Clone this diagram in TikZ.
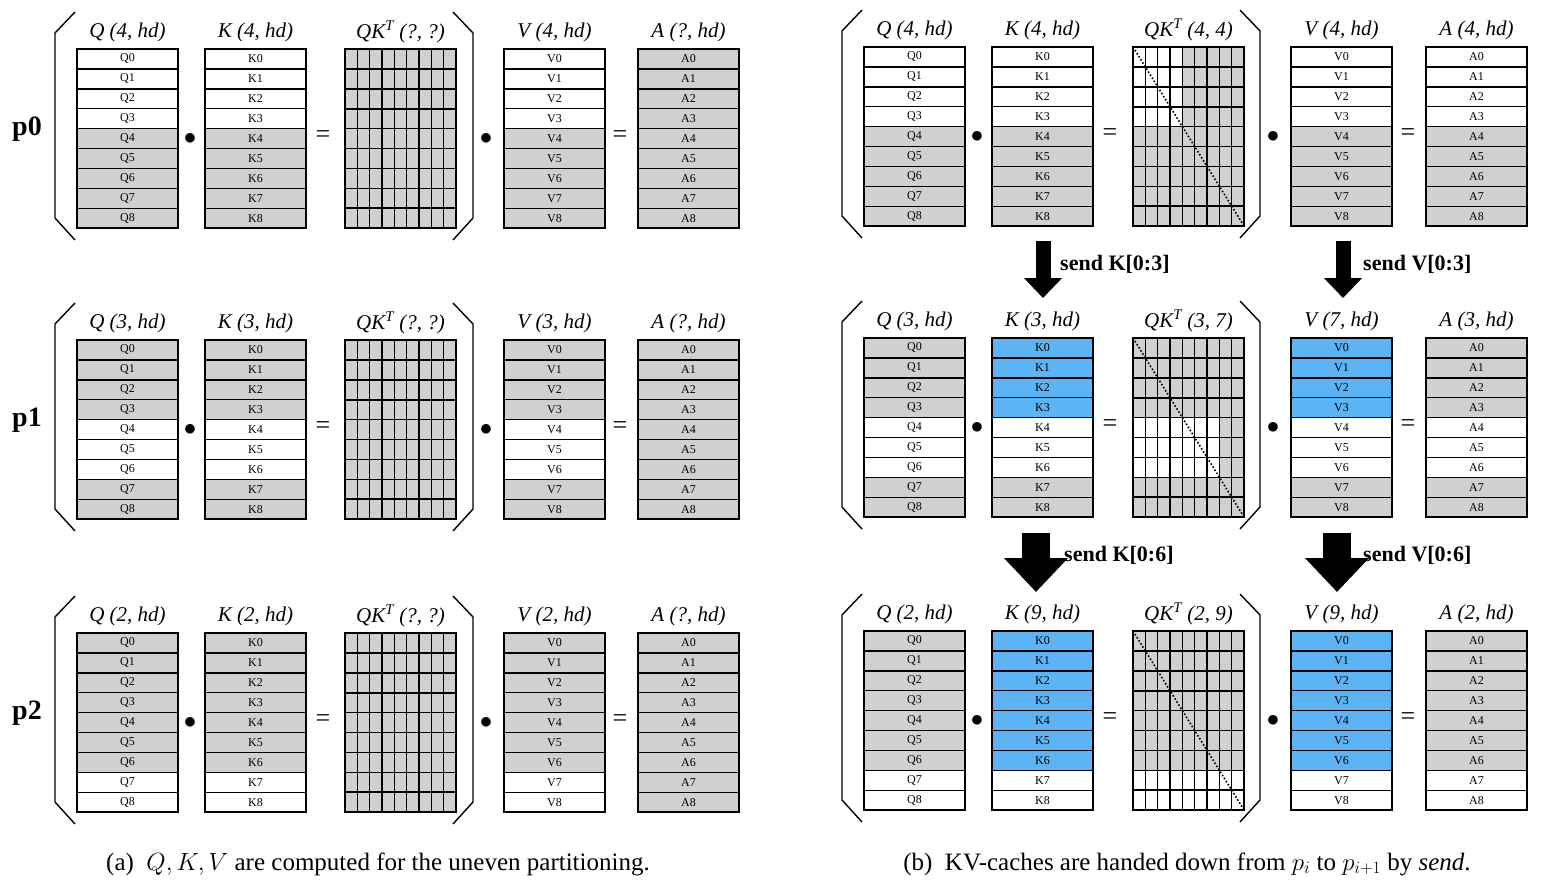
\documentclass[tikz,border=0pt]{standalone}
\usepackage{fontspec}
\setmainfont{Liberation Serif}
\usetikzlibrary{arrows.meta}
\definecolor{cg}{HTML}{D0D0D0}
\definecolor{cb}{HTML}{5CB4F5}
\colorlet{cw}{white}
\tikzset{
 cell/.style={draw,line width=1.4pt,minimum width=101pt,minimum height=19.9pt,inner sep=0pt,font=\fontsize{12}{12}\selectfont},
 hdr/.style={font=\fontsize{21}{21}\selectfont\itshape,inner sep=0pt},
 brk/.style={line width=1.4pt},
 sym/.style={font=\fontsize{26}{26}\selectfont,inner sep=0pt},
 plab/.style={font=\fontsize{28}{28}\selectfont\bfseries,inner sep=0pt},
 slab/.style={font=\fontsize{22}{22}\selectfont\bfseries,inner sep=0pt,anchor=west},
 captext/.style={font=\fontsize{25}{25}\selectfont,inner sep=0pt},
 arrA/.style={line width=15pt,-{Triangle[width=37pt,length=20pt]}},
 arrB/.style={line width=28pt,-{Triangle[width=62pt,length=34pt]}}
}
% column: name, x, ytop, letter, header, fills
\newcommand\mcol[6]{%
 \node[hdr] (#1h) at (#2+50.5,#3-17) {#5};
 \foreach \c [count=\i from 0] in {#6} {\node[cell,fill=\c] (#1\i) at (#2+50.5,#3+9.95+19.9*\i) {#4\i};}
}
% grid: name, x, ytop, header, row1, row2, ncol white, diagonal(1/0)
\newcommand\qkgrid[8]{%
 \node[hdr] (#1h) at (#2+55.5,#3-17) {#4};
 \foreach \r in {0,...,8}{\foreach \c in {0,...,8}{%
   \pgfmathparse{and(and(\r>=#5,\r<=#6),\c<#7)}%
   \ifdim\pgfmathresult pt>0.5pt \def\cc{cw}\else\def\cc{cg}\fi
   \draw[line width=1.6pt,fill=\cc] (#2+\c*12.33,#3+\r*19.9) rectangle ++(12.33,19.9);}}
 \coordinate (#1tl) at (#2,#3);
 \coordinate (#1br) at (#2+111,#3+179);
 \ifnum#8=1 \draw[dotted,line width=1.6pt] (#1tl) -- (#1br);\fi
}
\newcommand\brackets[3]{% left x, right x, ytop
 \draw[brk] (#1+20,#3-37) -- (#1,#3-16) -- (#1,#3+169) -- (#1+20,#3+191);
 \draw[brk] (#2-20,#3-37) -- (#2,#3-16) -- (#2,#3+169) -- (#2-20,#3+191);
}
\newcommand\syms[5]{% prefix, x1..x4 ; uses \yy
 \node[sym] (#1d1) at (#2,\yy+90) {$\bullet$};
 \node[sym] (#1e1) at (#3,\yy+88) {=};
 \node[sym] (#1d2) at (#4,\yy+90) {$\bullet$};
 \node[sym] (#1e2) at (#5,\yy+88) {=};
}
\begin{document}
\begin{tikzpicture}[x=1pt,y=-1pt]
\useasboundingbox (0,0) rectangle (1548,881);
% ---------- panel (a)
% p0
\def\yy{49}
\node[plab] (ap0) at (27,\yy+80) {p0};
\brackets{55}{473}{\yy}
\mcol{aaQ}{77}{\yy}{Q}{Q (4, hd)}{cw,cw,cw,cw,cg,cg,cg,cg,cg}
\mcol{aaK}{205}{\yy}{K}{K (4, hd)}{cw,cw,cw,cw,cg,cg,cg,cg,cg}
\qkgrid{aaG}{345}{\yy}{QK\textsuperscript{T} (?, ?)}{9}{9}{0}{0}
\mcol{aaV}{504}{\yy}{V}{V (4, hd)}{cw,cw,cw,cw,cg,cg,cg,cg,cg}
\mcol{aaA}{638}{\yy}{A}{A (?, hd)}{cg,cg,cg,cg,cg,cg,cg,cg,cg}
\syms{aa}{190}{323}{486}{620}
% p1
\def\yy{340}
\node[plab] (ap1) at (27,\yy+80) {p1};
\brackets{55}{473}{\yy}
\mcol{abQ}{77}{\yy}{Q}{Q (3, hd)}{cg,cg,cg,cg,cw,cw,cw,cg,cg}
\mcol{abK}{205}{\yy}{K}{K (3, hd)}{cg,cg,cg,cg,cw,cw,cw,cg,cg}
\qkgrid{abG}{345}{\yy}{QK\textsuperscript{T} (?, ?)}{9}{9}{0}{0}
\mcol{abV}{504}{\yy}{V}{V (3, hd)}{cg,cg,cg,cg,cw,cw,cw,cg,cg}
\mcol{abA}{638}{\yy}{A}{A (?, hd)}{cg,cg,cg,cg,cg,cg,cg,cg,cg}
\syms{ab}{190}{323}{486}{620}
% p2
\def\yy{633}
\node[plab] (ap2) at (27,\yy+80) {p2};
\brackets{55}{473}{\yy}
\mcol{acQ}{77}{\yy}{Q}{Q (2, hd)}{cg,cg,cg,cg,cg,cg,cg,cw,cw}
\mcol{acK}{205}{\yy}{K}{K (2, hd)}{cg,cg,cg,cg,cg,cg,cg,cw,cw}
\qkgrid{acG}{345}{\yy}{QK\textsuperscript{T} (?, ?)}{9}{9}{0}{0}
\mcol{acV}{504}{\yy}{V}{V (2, hd)}{cg,cg,cg,cg,cg,cg,cg,cw,cw}
\mcol{acA}{638}{\yy}{A}{A (?, hd)}{cg,cg,cg,cg,cg,cg,cg,cg,cg}
\syms{ac}{190}{323}{486}{620}
% ---------- panel (b)
\def\yy{47}
\brackets{842}{1260}{\yy}
\mcol{baQ}{864}{\yy}{Q}{Q (4, hd)}{cw,cw,cw,cw,cg,cg,cg,cg,cg}
\mcol{baK}{992}{\yy}{K}{K (4, hd)}{cw,cw,cw,cw,cg,cg,cg,cg,cg}
\qkgrid{baG}{1133}{\yy}{QK\textsuperscript{T} (4, 4)}{0}{3}{4}{1}
\mcol{baV}{1291}{\yy}{V}{V (4, hd)}{cw,cw,cw,cw,cg,cg,cg,cg,cg}
\mcol{baA}{1426}{\yy}{A}{A (4, hd)}{cw,cw,cw,cw,cg,cg,cg,cg,cg}
\syms{ba}{977}{1110}{1273}{1408}
\def\yy{338}
\brackets{842}{1260}{\yy}
\mcol{bbQ}{864}{\yy}{Q}{Q (3, hd)}{cg,cg,cg,cg,cw,cw,cw,cg,cg}
\mcol{bbK}{992}{\yy}{K}{K (3, hd)}{cb,cb,cb,cb,cw,cw,cw,cg,cg}
\qkgrid{bbG}{1133}{\yy}{QK\textsuperscript{T} (3, 7)}{4}{6}{7}{1}
\mcol{bbV}{1291}{\yy}{V}{V (7, hd)}{cb,cb,cb,cb,cw,cw,cw,cg,cg}
\mcol{bbA}{1426}{\yy}{A}{A (3, hd)}{cg,cg,cg,cg,cw,cw,cw,cg,cg}
\syms{bb}{977}{1110}{1273}{1408}
\def\yy{631}
\brackets{842}{1260}{\yy}
\mcol{bcQ}{864}{\yy}{Q}{Q (2, hd)}{cg,cg,cg,cg,cg,cg,cg,cw,cw}
\mcol{bcK}{992}{\yy}{K}{K (9, hd)}{cb,cb,cb,cb,cb,cb,cb,cw,cw}
\qkgrid{bcG}{1133}{\yy}{QK\textsuperscript{T} (2, 9)}{7}{8}{9}{1}
\mcol{bcV}{1291}{\yy}{V}{V (9, hd)}{cb,cb,cb,cb,cb,cb,cb,cw,cw}
\mcol{bcA}{1426}{\yy}{A}{A (2, hd)}{cg,cg,cg,cg,cg,cg,cg,cw,cw}
\syms{bc}{977}{1110}{1273}{1408}
% arrows
\coordinate (k1s) at (1043,241); \coordinate (k1e) at (1043,298);
\coordinate (v1s) at (1343,241); \coordinate (v1e) at (1343,298);
\coordinate (k2s) at (1036,533); \coordinate (k2e) at (1036,592);
\coordinate (v2s) at (1337,533); \coordinate (v2e) at (1337,592);
\draw[arrA] (k1s) -- (k1e);
\draw[arrA] (v1s) -- (v1e);
\draw[arrB] (k2s) -- (k2e);
\draw[arrB] (v2s) -- (v2e);
\node[slab] (sk1) at (1060,264) {send K[0:3]};
\node[slab] (sv1) at (1363,264) {send V[0:3]};
\node[slab] (sk2) at (1064,555) {send K[0:6]};
\node[slab] (sv2) at (1363,555) {send V[0:6]};
% captions
\node[captext] (capa) at (378,864) {(a)\enspace $Q, K, V$ are computed for the uneven partitioning.};
\node[captext] (capb) at (1187,864) {(b)\enspace KV-caches are handed down from $p_i$ to $p_{i+1}$ by \textit{send}.};
\end{tikzpicture}
\end{document}
